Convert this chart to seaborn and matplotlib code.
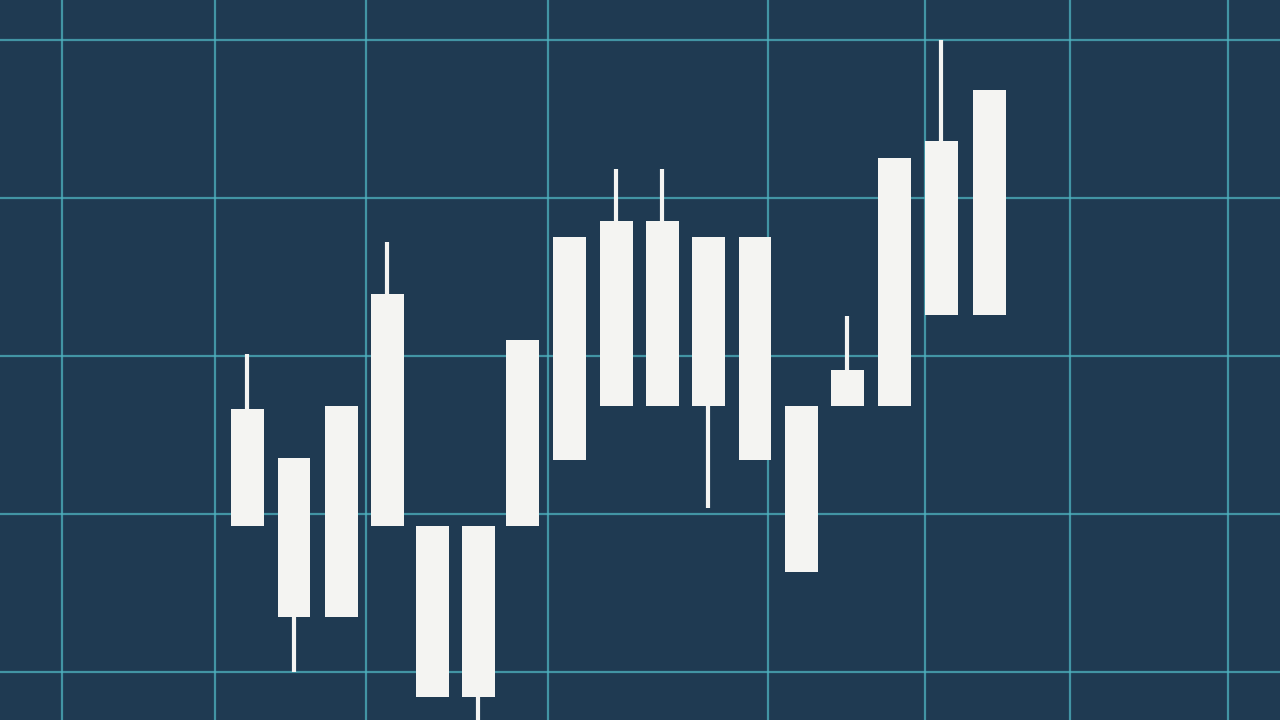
import numpy as np
import pandas as pd
import matplotlib
matplotlib.use("Agg")
import matplotlib.pyplot as plt
import seaborn as sns

# Candle data (time positions and OHLC-style values)
pos = [0.0, 1.01, 2.03, 3.02, 3.99, 4.98, 5.93, 6.94, 7.96, 8.95,
       9.94, 10.95, 11.95, 12.94, 13.95, 14.97, 16.0]
body_top = [116.6, 113.5, 116.8, 123.9, 109.2, 109.2, 121.0, 127.5, 128.5, 128.5,
            127.5, 127.5, 116.8, 119.1, 132.5, 133.6, 136.8]
body_bot = [109.2, 103.5, 103.5, 109.2, 98.4, 98.4, 109.2, 113.4, 116.8, 116.8,
            116.8, 113.4, 106.3, 116.8, 116.8, 122.6, 122.6]
high = [120.1, 113.5, 116.8, 127.2, 109.2, 109.2, 121.0, 127.5, 131.8, 131.8,
        127.5, 127.5, 116.8, 122.5, 132.5, 140.0, 136.8]
low = [109.2, 100.0, 103.5, 109.2, 98.4, 95.5, 109.2, 113.4, 116.8, 116.8,
       110.4, 113.4, 106.3, 116.8, 116.8, 122.6, 122.6]

# Grid positions (background grid lines)
grid_x = [-3.99, -0.69, 2.57, 6.49, 11.23, 14.62, 17.75, 21.15]
grid_y = [100, 110, 120, 130, 140]

df = pd.DataFrame({"pos": pos, "top": body_top, "bot": body_bot,
                   "high": high, "low": low})

bg = "#1f3a52"
sns.set_theme(style="dark", rc={"axes.facecolor": bg, "figure.facecolor": bg})

fig = plt.figure(figsize=(12.8, 7.2), dpi=100)
ax = fig.add_axes([0, 0, 1, 1])
ax.set_facecolor(bg)

for gx in grid_x:
    ax.axvline(gx, color="#4fb3c0", lw=1.6, alpha=0.75, zorder=1)
for gy in grid_y:
    ax.axhline(gy, color="#4fb3c0", lw=1.6, alpha=0.75, zorder=1)

candle = "#f4f4f2"
ax.vlines(df["pos"], df["low"], df["high"], color=candle, lw=3, zorder=2)
ax.bar(df["pos"], df["top"] - df["bot"], bottom=df["bot"], width=0.71,
       color=candle, edgecolor="none", zorder=3)

ax.set_xlim(-5.33, 22.27)
ax.set_ylim(96.96, 142.5)
ax.set_xticks([])
ax.set_yticks([])
for s in ax.spines.values():
    s.set_visible(False)

fig.savefig("out.png", dpi=100, facecolor=bg)
